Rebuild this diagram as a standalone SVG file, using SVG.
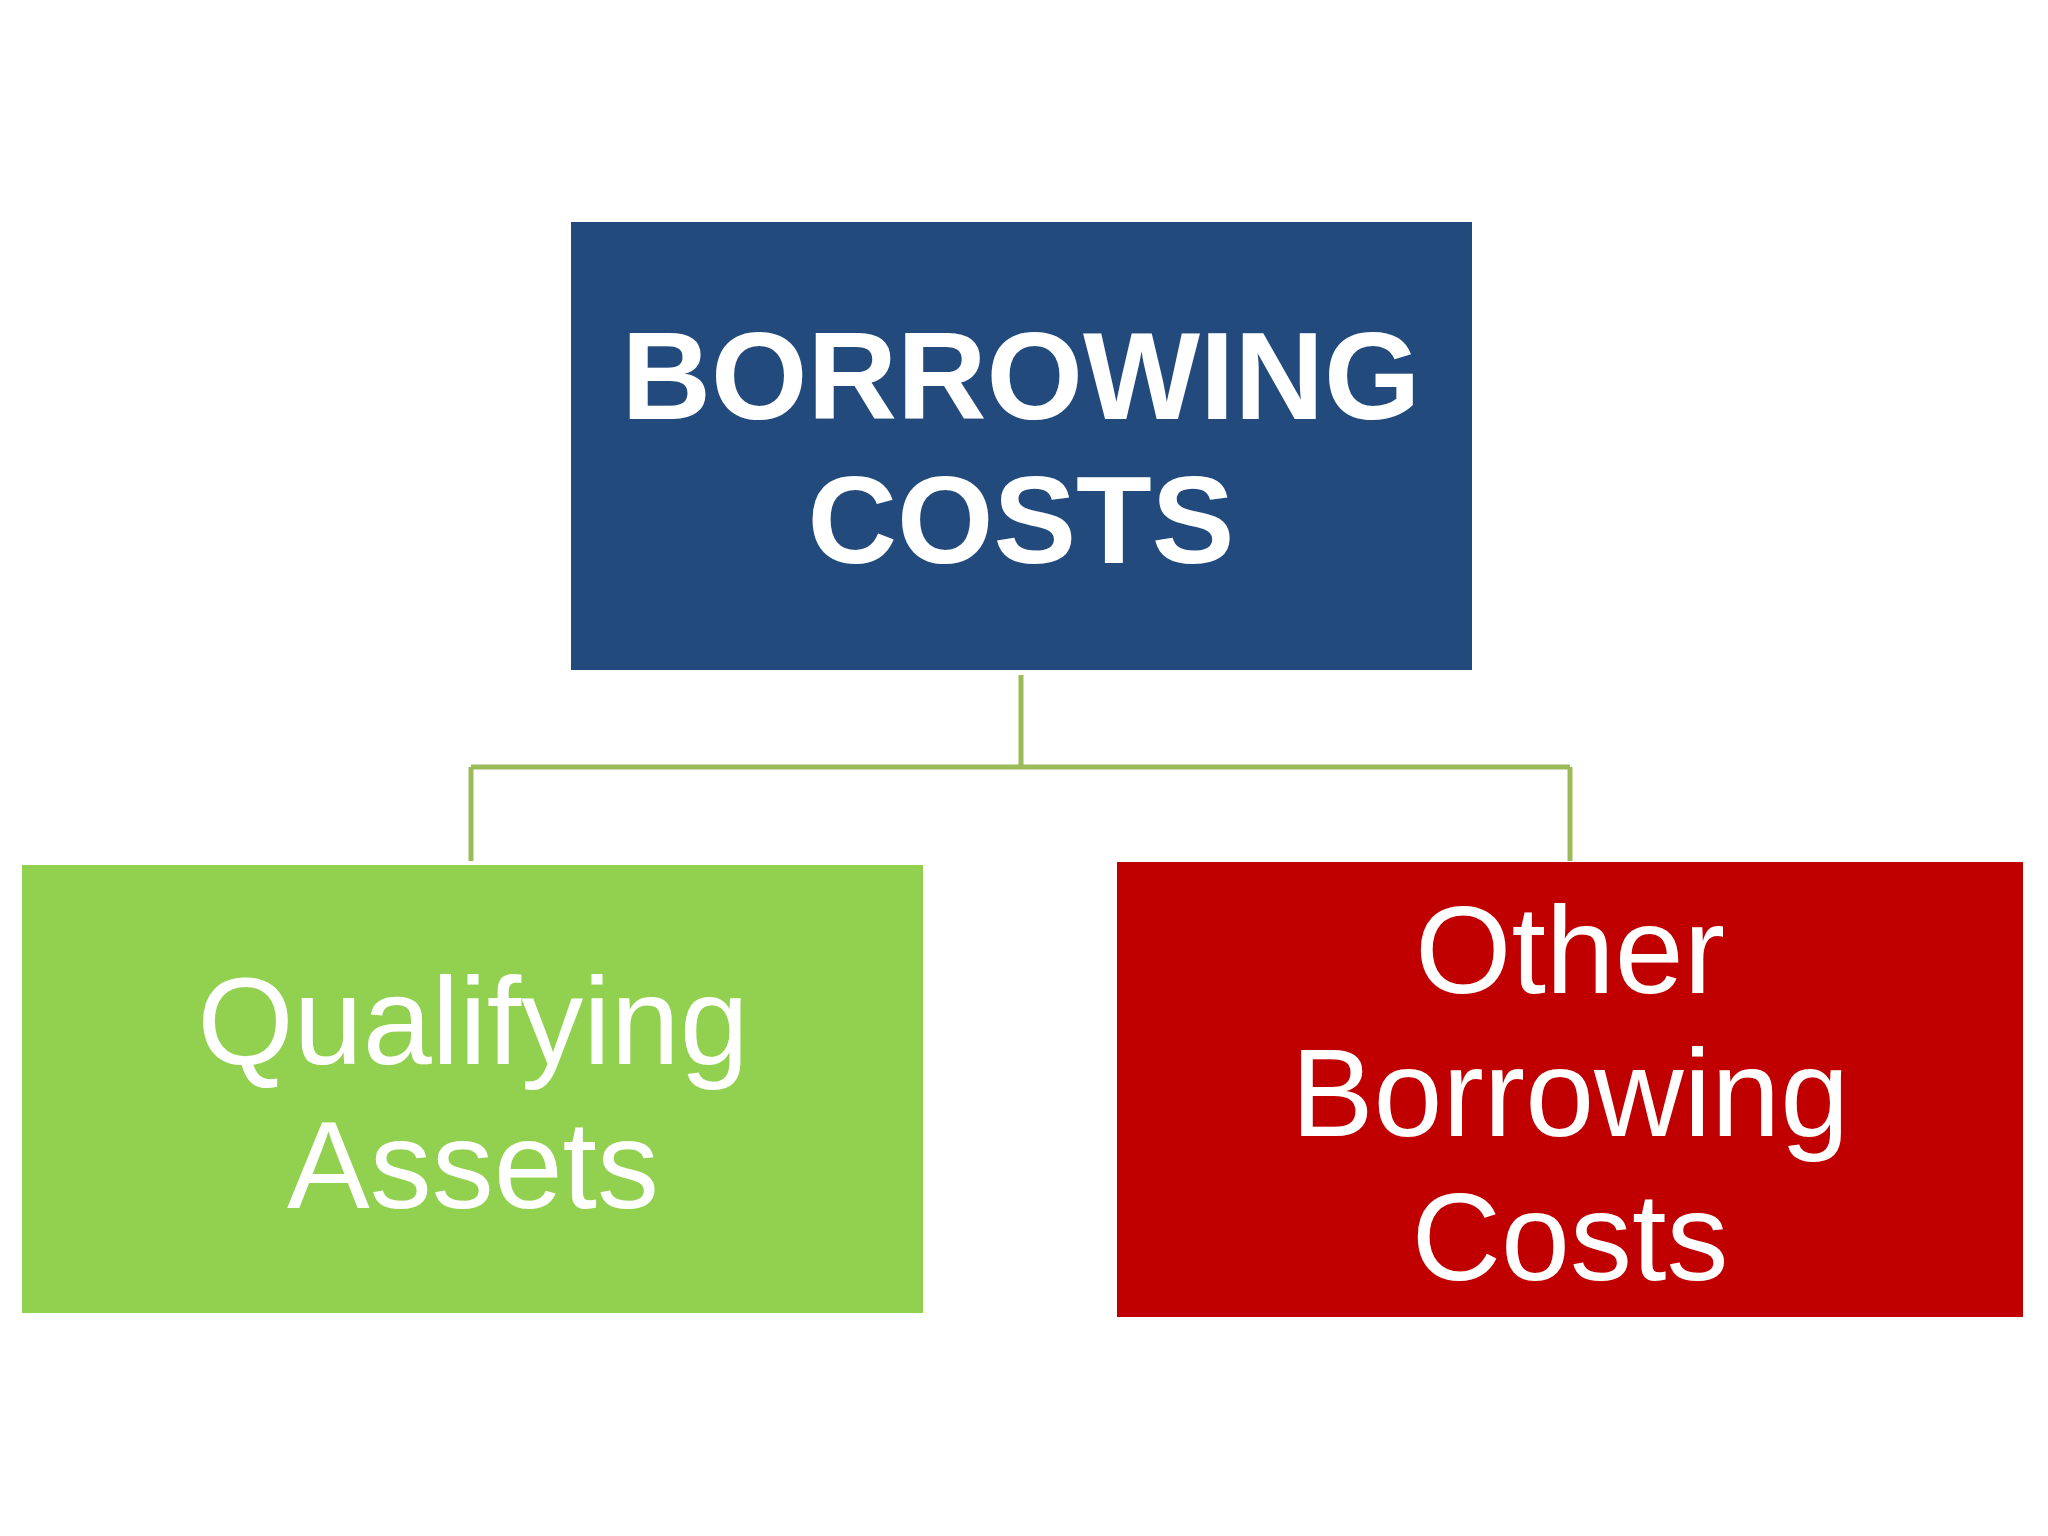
<svg xmlns="http://www.w3.org/2000/svg" width="2048" height="1536" viewBox="0 0 2048 1536">
<style>
.t{font-family:"Liberation Sans",Arial,sans-serif;fill:#fff;text-anchor:middle;font-size:124px}
.b{font-weight:bold}
.c{fill:none;stroke:#9bbb59;stroke-width:5}
</style>
<rect width="2048" height="1536" fill="#fff"/>
<g id="connectors">
<path class="c" d="M1021 675V767M471 767H1570M471 767V861M1570 767V861"/>
</g>
<g id="root">
<rect x="571" y="222" width="901" height="448" fill="#234a7c"/>
<text class="t b" x="1021" y="419">BORROWING</text>
<text class="t b" x="1021" y="563">COSTS</text>
</g>
<g id="qualifying">
<rect x="22" y="865" width="901" height="448" fill="#92d050"/>
<text class="t" x="473" y="1064">Qualifying</text>
<text class="t" x="473" y="1208">Assets</text>
</g>
<g id="other">
<rect x="1117" y="862" width="906" height="455" fill="#c00000"/>
<text class="t" x="1570" y="993">Other</text>
<text class="t" x="1570" y="1136">Borrowing</text>
<text class="t" x="1570" y="1280">Costs</text>
</g>
</svg>
